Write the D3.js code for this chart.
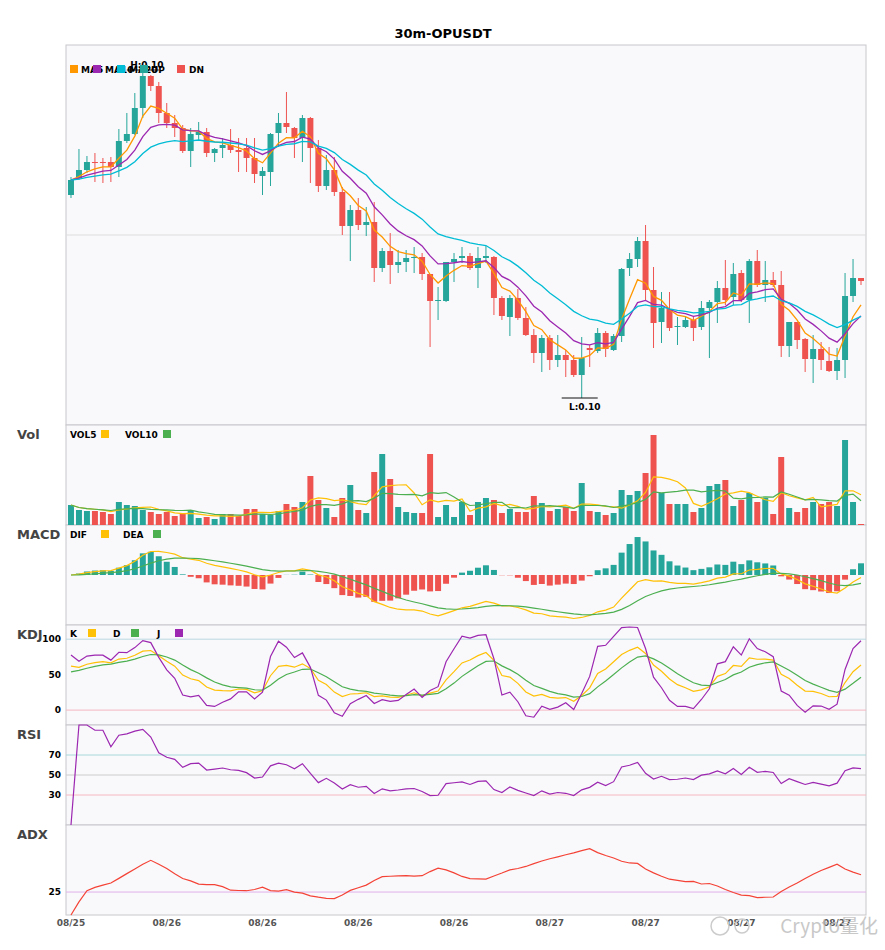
<!doctype html>
<html lang=en>
<head>
<meta charset=utf-8>
<title>30m-OPUSDT</title>
<script src="https://cdn.jsdelivr.net/npm/d3@7"></script>
<style>
body { margin: 0; background: #fff; font-family: "DejaVu Sans", sans-serif; }
</style>
</head>
<body>
<svg id=chart width=885 height=950></svg>
<script>
// prices in 1e-5 USDT
var open  = [10080,10114,10130,10146,10146,10146,10136,10188,10202,10254,10318,10298,10244,10224,10214,10168,10200,10206,10164,10174,
             10180,10170,10174,10154,10118,10126,10204,10224,10214,10194,10234,10174,10098,10130,10086,10018,10050,10020,10026,9934,
             9968,9940,9946,9954,9956,9922,9868,9868,9946,9954,9958,9934,9954,9956,9874,9836,9874,9834,9800,9764,
             9794,9750,9760,9750,9720,9774,9768,9804,9770,9798,9934,9952,9988,9890,9826,9852,9816,9816,9830,9816,
             9854,9866,9894,9876,9924,9870,9948,9900,9910,9900,9778,9826,9792,9752,9772,9748,9728,9750,9878,9914];
var close = [10110,10130,10146,10144,10144,10136,10188,10202,10254,10318,10298,10244,10224,10214,10168,10202,10206,10164,10172,10180,
             10170,10166,10154,10122,10128,10202,10224,10216,10194,10234,10174,10098,10130,10086,10018,10050,10020,10026,9934,9968,
             9940,9946,9954,9956,9922,9868,9870,9946,9952,9958,9934,9954,9958,9874,9838,9874,9834,9800,9764,9794,
             9750,9760,9750,9720,9754,9770,9804,9772,9798,9932,9952,9988,9890,9824,9854,9814,9818,9830,9814,9854,
             9866,9894,9870,9922,9870,9948,9900,9910,9900,9778,9826,9790,9752,9772,9750,9728,9750,9878,9914,9908];
var high  = [10116,10172,10158,10164,10154,10156,10212,10244,10284,10330,10320,10306,10264,10240,10220,10214,10226,10214,10174,10194,
             10212,10194,10194,10194,10136,10204,10244,10286,10216,10240,10236,10190,10160,10156,10096,10060,10074,10056,10066,9974,
             10004,9970,9970,9976,9964,9922,9896,9946,9964,9976,9964,9976,9978,9958,9878,9880,9892,9856,9812,9800,
             9800,9800,9770,9760,9796,9780,9814,9808,9802,9934,9964,9996,10020,9936,9886,9886,9836,9838,9838,9868,
             9870,9908,9950,9944,9930,9952,9970,9948,9926,9928,9826,9826,9794,9800,9786,9776,9774,9924,9952,9914];
var low   = [10074,10110,10124,10106,10104,10106,10116,10184,10200,10234,10288,10224,10214,10196,10164,10136,10190,10156,10146,10154,
             10164,10126,10126,10104,10080,10098,10176,10204,10154,10146,10104,10086,10090,10078,10000,9948,10010,9998,9906,9926,
             9902,9924,9926,9924,9910,9776,9830,9866,9906,9944,9930,9894,9944,9840,9830,9798,9830,9798,9744,9726,
             9730,9736,9716,9716,9674,9736,9764,9756,9768,9786,9918,9936,9870,9774,9784,9808,9780,9814,9788,9810,
             9754,9824,9860,9860,9866,9824,9896,9866,9896,9756,9756,9772,9726,9704,9730,9726,9710,9714,9866,9900];
var volume = [20,15,14,14,13,11,23,20,19,15,13,11,13,9,11,14,7,8,6,11,
              11,9,16,16,11,10,14,21,18,23,49,25,17,8,27,40,15,12,53,71,
              46,18,13,12,12,71,8,20,8,23,10,23,27,25,12,16,13,13,29,22,
              14,16,18,14,42,14,13,10,12,35,30,34,52,90,32,21,21,21,13,17,
              39,41,45,19,25,32,23,27,11,68,17,13,17,23,21,23,19,85,23,1];
var dateTicks = ["08/25","08/26","08/26","08/26","08/26","08/27","08/27","08/27","08/27"];

var UP = "#26a69a", DN = "#ef5350";
var n = close.length;
var idx = d3.range(n);

// ---- indicators ----
function sma(a, p) { return a.map(function(v, i) { var s = a.slice(Math.max(0, i - p + 1), i + 1); return d3.mean(s); }); }
function ema(a, p) { var k = 2 / (p + 1), out = []; a.forEach(function(v, i) { out.push(i ? v * k + out[i - 1] * (1 - k) : v); }); return out; }
var ma5 = ema(close, 5), ma10 = ema(close, 10), ma20 = ema(close, 20);
var vol5 = sma(volume, 5), vol10 = sma(volume, 10);
var e12 = ema(close, 12), e26 = ema(close, 26);
var dif = e12.map(function(v, i) { return v - e26[i]; });
var dea = ema(dif, 9);
var hist = dif.map(function(v, i) { return 2 * (v - dea[i]); });

var K = [], D = [], J = [];
idx.forEach(function(i) {
	var hh = d3.max(high.slice(Math.max(0, i - 8), i + 1)), ll = d3.min(low.slice(Math.max(0, i - 8), i + 1));
	var rsv = hh === ll ? 50 : (close[i] - ll) / (hh - ll) * 100;
	var k = (i ? K[i - 1] : 50) * 2 / 3 + rsv / 3;
	var d = (i ? D[i - 1] : 50) * 2 / 3 + k / 3;
	K.push(k); D.push(d); J.push(3 * k - 2 * d);
});

var rsi = [0], ag = 0, al = 0;
for (var i = 1; i < n; i++) {
	var ch = close[i] - close[i - 1];
	var g = Math.max(ch, 0), l = Math.max(-ch, 0);
	if (i <= 14) { ag = (ag * (i - 1) + g) / i; al = (al * (i - 1) + l) / i; }
	else { ag = (ag * 13 + g) / 14; al = (al * 13 + l) / 14; }
	rsi.push(al === 0 ? 100 : 100 - 100 / (1 + ag / al));
}

var adx = [0], sTR = 0, sP = 0, sM = 0, adxV = 0;
for (var i = 1; i < n; i++) {
	var tr = Math.max(high[i] - low[i], Math.abs(high[i] - close[i - 1]), Math.abs(low[i] - close[i - 1]));
	var up = high[i] - high[i - 1], dn = low[i - 1] - low[i];
	var pdm = up > dn && up > 0 ? up : 0, mdm = dn > up && dn > 0 ? dn : 0;
	var p = Math.min(i, 7);
	sTR = sTR + (tr - sTR) / p; sP = sP + (pdm - sP) / p; sM = sM + (mdm - sM) / p;
	var pdi = sP / sTR * 100, mdi = sM / sTR * 100;
	var dx = pdi + mdi ? Math.abs(pdi - mdi) / (pdi + mdi) * 100 : 0;
	adxV = adxV + (dx - adxV) / 7;
	adx.push(adxV);
}

// ---- layout ----
var svg = d3.select("#chart");
var L = 66, R = 866;
var x = d3.scaleBand().domain(idx).range([L, R]).padding(0.25);
var cx = function(i) { return x(i) + x.bandwidth() / 2; };
var panels = [
	{name: null, top: 45, bot: 425},
	{name: "Vol", top: 425, bot: 525},
	{name: "MACD", top: 525, bot: 625},
	{name: "KDJ", top: 625, bot: 725},
	{name: "RSI", top: 725, bot: 825},
	{name: "ADX", top: 825, bot: 915}
];
panels.forEach(function(p) {
	svg.append("rect").attr("x", L).attr("y", p.top).attr("width", R - L).attr("height", p.bot - p.top)
		.attr("fill", "#f9f9fc").attr("stroke", "#c8c8cc");
	if (p.name) svg.append("text").attr("x", 17).attr("y", p.top + 14).text(p.name)
		.attr("font-size", 13).attr("font-weight", "bold").attr("fill", "#444");
});
svg.append("text").attr("x", 443).attr("y", 38).attr("text-anchor", "middle").text("30m-OPUSDT")
	.attr("font-size", 13).attr("font-weight", "bold");

function line(g, data, y, color, w) {
	g.append("path").datum(data).attr("fill", "none").attr("stroke", color).attr("stroke-width", w || 1.3)
		.attr("d", d3.line().x(function(d, i) { return cx(i); }).y(function(d) { return y(d); }));
}
function legend(g, items, yy) {
	items.forEach(function(it) {
		g.append("text").attr("x", it[1]).attr("y", yy + 4).text(it[0]).attr("font-size", 9).attr("font-weight", "bold");
		g.append("rect").attr("x", it[3]).attr("y", yy - 4).attr("width", 8).attr("height", 8).attr("fill", it[2]);
	});
}
function hline(y, v, color) {
	svg.append("line").attr("x1", L).attr("x2", R).attr("y1", y(v)).attr("y2", y(v)).attr("stroke", color).attr("stroke-width", 1);
}
function tick(y, v) {
	svg.append("text").attr("x", 61).attr("y", y(v) + 3).attr("text-anchor", "end").text(v)
		.attr("font-size", 9).attr("font-weight", "bold");
}

// ---- main ----
var y0 = d3.scaleLinear().domain([9620, 10380]).range([425, 45]);
hline(y0, 10000, "#dddddd");
var cg = svg.append("g");
cg.selectAll(".wick").data(idx).enter().append("line")
	.attr("x1", cx).attr("x2", cx).attr("y1", function(i) { return y0(high[i]); }).attr("y2", function(i) { return y0(low[i]); })
	.attr("stroke", function(i) { return close[i] >= open[i] ? UP : DN; }).attr("stroke-width", 1);
cg.selectAll(".body").data(idx).enter().append("rect")
	.attr("x", function(i) { return x(i); }).attr("width", x.bandwidth())
	.attr("y", function(i) { return y0(Math.max(open[i], close[i])); })
	.attr("height", function(i) { return Math.max(1, Math.abs(y0(open[i]) - y0(close[i]))); })
	.attr("fill", function(i) { return close[i] >= open[i] ? UP : DN; });
line(svg, ma5, y0, "#ff9800");
line(svg, ma10, y0, "#9c27b0");
line(svg, ma20, y0, "#00bcd4");
var hi = d3.maxIndex(high), lo = d3.minIndex(low);
svg.append("line").attr("x1", cx(hi) - 16).attr("x2", cx(hi) + 16).attr("y1", y0(high[hi])).attr("y2", y0(high[hi])).attr("stroke", "#111");
svg.append("text").attr("x", cx(hi) + 4).attr("y", y0(high[hi]) - 2).attr("text-anchor", "middle")
	.text("H:" + (high[hi] / 1e5).toFixed(2)).attr("font-size", 9).attr("font-weight", "bold");
svg.append("line").attr("x1", cx(lo) - 20).attr("x2", cx(lo) + 16).attr("y1", y0(low[lo])).attr("y2", y0(low[lo])).attr("stroke", "#111");
svg.append("text").attr("x", cx(lo) + 3).attr("y", y0(low[lo]) + 12).attr("text-anchor", "middle")
	.text("L:" + (low[lo] / 1e5).toFixed(2)).attr("font-size", 9).attr("font-weight", "bold");
legend(svg, [["MA5", 81, "#ff9800", 70], ["MA10", 105, "#9c27b0", 93], ["MA20", 129, "#00bcd4", 117],
	["UP", 151, UP, 140], ["DN", 189, DN, 177]], 69);

// ---- volume ----
var yv = d3.scaleLinear().domain([0, 100]).range([525, 425]);
svg.append("g").selectAll("rect").data(idx).enter().append("rect")
	.attr("x", function(i) { return x(i); }).attr("width", x.bandwidth())
	.attr("y", function(i) { return yv(volume[i]); }).attr("height", function(i) { return yv(0) - yv(volume[i]); })
	.attr("fill", function(i) { return close[i] >= open[i] ? UP : DN; });
line(svg, vol5, yv, "#ffc107", 1.2);
line(svg, vol10, yv, "#4caf50", 1.2);
legend(svg, [["VOL5", 70, "#ffc107", 101], ["VOL10", 125, "#4caf50", 163]], 434);

// ---- MACD ----
var mm = d3.max(dif.concat(dea, hist).map(Math.abs)) * 1.15;
var ym = d3.scaleLinear().domain([-mm, mm]).range([625, 525]);
svg.append("g").selectAll("rect").data(idx).enter().append("rect")
	.attr("x", function(i) { return x(i); }).attr("width", x.bandwidth())
	.attr("y", function(i) { return ym(Math.max(0, hist[i])); })
	.attr("height", function(i) { return Math.abs(ym(hist[i]) - ym(0)); })
	.attr("fill", function(i) { return hist[i] >= 0 ? UP : DN; });
line(svg, dif, ym, "#ffc107", 1.2);
line(svg, dea, ym, "#4caf50", 1.2);
legend(svg, [["DIF", 70, "#ffc107", 101], ["DEA", 123, "#4caf50", 153]], 534);

// ---- KDJ ----
var yk = d3.scaleLinear().domain([-21, 120]).range([725, 625]);
hline(yk, 100, "#b8d8e0"); hline(yk, 0, "#f4b8c0");
[100, 50, 0].forEach(function(v) { tick(yk, v); });
line(svg, K, yk, "#ffc107", 1.2);
line(svg, D, yk, "#4caf50", 1.2);
line(svg, J, yk, "#9c27b0", 1.2);
legend(svg, [["K", 70, "#ffc107", 88], ["D", 113, "#4caf50", 131], ["J", 157, "#9c27b0", 175]], 633);

// ---- RSI ----
var yr = d3.scaleLinear().domain([0, 100]).range([825, 725]);
hline(yr, 70, "#a8d8d8"); hline(yr, 50, "#cccccc"); hline(yr, 30, "#f4b8c0");
[70, 50, 30].forEach(function(v) { tick(yr, v); });
line(svg, rsi, yr, "#9c27b0", 1.2);

// ---- ADX ----
var ya = d3.scaleLinear().domain([0, 98]).range([915, 825]);
hline(ya, 25, "#e0b0e8");
tick(ya, 25);
line(svg, adx, ya, "#f44336", 1.2);

// ---- x labels ----
dateTicks.forEach(function(t, k) {
	svg.append("text").attr("x", cx(k * 12)).attr("y", 926).attr("text-anchor", "middle").text(t)
		.attr("font-size", 9).attr("font-weight", "bold").attr("fill", "#555");
});
svg.append("text").attr("x", 878).attr("y", 933).attr("text-anchor", "end").text("Crypto量化")
	.attr("font-family", "Noto Sans CJK SC").attr("font-size", 19).attr("fill", "#bbb").attr("opacity", 0.8);
svg.append("circle").attr("cx", 720).attr("cy", 926).attr("r", 9).attr("fill", "none").attr("stroke", "#ccc").attr("stroke-width", 1.5);
svg.append("circle").attr("cx", 742).attr("cy", 926).attr("r", 7).attr("fill", "none").attr("stroke", "#ccc").attr("stroke-width", 1.5);
</script>
</body>
</html>
